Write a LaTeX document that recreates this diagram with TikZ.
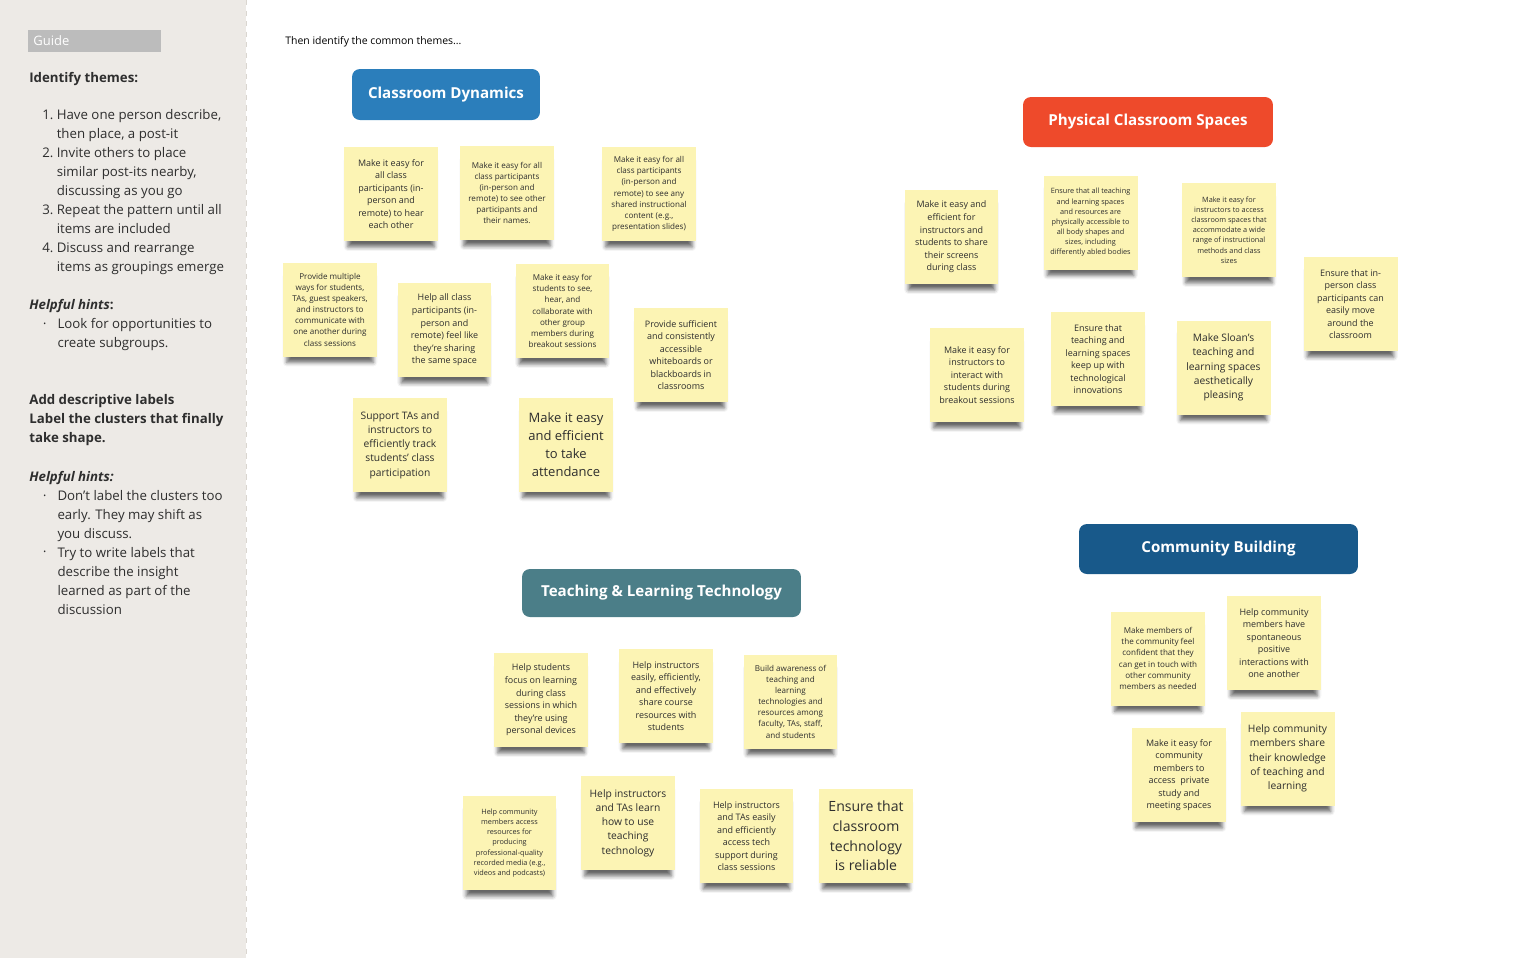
\documentclass[tikz,border=0pt]{standalone}
\usepackage{fontspec}
\setmainfont{Open Sans}
\usetikzlibrary{shadows.blur}
\definecolor{Ink}{HTML}{2E2E2E}
\definecolor{Paper}{HTML}{EDEAE6}
\definecolor{PaperEdge}{HTML}{DAD6D0}
\definecolor{Tab}{HTML}{BCBCBC}
\definecolor{Sticky}{HTML}{FCF4B4}
\definecolor{DynBlue}{HTML}{2B7EBB}
\definecolor{SpaceRed}{HTML}{EE4A2B}
\definecolor{CommNavy}{HTML}{18598A}
\definecolor{TechTeal}{HTML}{4B7E88}
\newcommand{\hintdot}{\raisebox{0.35ex}{\scalebox{0.55}{\textbullet}}}

\begin{document}
\begin{tikzpicture}[x=0.02cm, y=-0.02cm,
  note/.style={fill=Sticky, text=Ink, align=center, inner sep=0pt, minimum width=1.88cm, minimum height=1.88cm,
    blur shadow={shadow xshift=0pt, shadow yshift=-6pt, shadow scale=0.92, shadow opacity=60, shadow blur radius=2.5pt}},
  xs/.style={font=\fontsize{4.15}{5.78}\selectfont},
  sm/.style={font=\fontsize{4.6}{6.35}\selectfont},
  md/.style={font=\fontsize{5.1}{7.14}\selectfont},
  lg/.style={font=\fontsize{5.85}{8.1}\selectfont},
  xl/.style={font=\fontsize{7.4}{10.37}\selectfont},
  xxl/.style={font=\fontsize{8.0}{11.17}\selectfont},
  theme/.style={rounded corners=4.5pt, text=white, inner sep=0pt, font=\bfseries\fontsize{8.6}{10}\selectfont},
  side/.style={inner sep=0pt, text=Ink, anchor=base west, font=\fontsize{7.55}{10.8}\selectfont}
]
\useasboundingbox (0,0) rectangle (1536,958);

% guide panel
\fill[Paper] (0,0) rectangle (246,958);
\draw[PaperEdge, dashed] (246,0) -- (246,958);
\node[fill=Tab, text=white, anchor=west, minimum width=2.66cm, minimum height=0.44cm, inner xsep=0.1cm, text width=2.46cm, align=left,
  font=\fontsize{7.4}{9}\selectfont] (guide) at (28,41) {Guide};

\node[side, font=\bfseries\fontsize{7.55}{10.8}\selectfont] (themes) at (29,82) {Identify themes:};
\node[side] (steps) at (42,119.5) {\begin{tabular}[t]{@{}r@{\hspace{1.9pt}}l@{}}
  1. & Have one person describe,\\
     & then place, a post-it\\
  2. & Invite others to place\\
     & similar post-its nearby,\\
     & discussing as you go\\
  3. & Repeat the pattern until all\\
     & items are included\\
  4. & Discuss and rearrange\\
     & items as groupings emerge
\end{tabular}};
\node[side] (hintsA) at (29,309.5) {\textbf{\textit{Helpful hints}}\textbf{:}};
\node[side] (hintlistA) at (43,328.5) {\begin{tabular}[t]{@{}c@{\hspace{6.5pt}}l@{}}
  \hintdot & Look for opportunities to\\
           & create subgroups.
\end{tabular}};

\node[side] (labels) at (29,404.5) {\begin{tabular}[t]{@{}l@{}}
  \textbf{Add descriptive labels}\\
  \textbf{Label the clusters that finally}\\
  \textbf{take shape.}
\end{tabular}};
\node[side] (hintsB) at (29,481.5) {\textbf{\textit{Helpful hints:}}};
\node[side] (hintlistB) at (43,500.5) {\begin{tabular}[t]{@{}c@{\hspace{6.5pt}}l@{}}
  \hintdot & Don't label the clusters too\\
           & early. They may shift as\\
           & you discuss.\\
  \hintdot & Try to write labels that\\
           & describe the insight\\
           & learned as part of the\\
           & discussion
\end{tabular}};

\node[anchor=west, inner sep=0pt, text=black, font=\fontsize{5.95}{7}\selectfont] (intro) at (285,42) {Then identify the common themes...};

% classroom dynamics
\node[theme, fill=DynBlue, minimum width=3.76cm, minimum height=1.02cm] (dynamics) at (446,94.5) {Classroom Dynamics};
\node[note, md] (hear) at (391,194) {Make it easy for\\all class\\participants (in-\\person and\\remote) to hear\\each other};
\node[note, sm] (seeothers) at (507,193) {Make it easy for all\\class participants\\(in-person and\\remote) to see other\\participants and\\their names.};
\node[note, sm] (seecontent) at (649,194) {Make it easy for all\\class participants\\(in-person and\\remote) to see any\\shared instructional\\content (e.g.,\\presentation slides)};
\node[note, sm] (multiple) at (330,309.5) {Provide multiple\\ways for students,\\TAs, guest speakers,\\and instructors to\\communicate with\\one another during\\class sessions};
\node[note, md] (samespace) at (444.5,330) {Help all class\\participants (in-\\person and\\remote) feel like\\they're sharing\\the same space};
\node[note, sm] (breakout) at (562.5,311) {Make it easy for\\students to see,\\hear, and\\collaborate with\\other group\\members during\\breakout sessions};
\node[note, md] (boards) at (681,355) {Provide sufficient\\and consistently\\accessible\\whiteboards or\\blackboards in\\classrooms};
\node[note, lg] (track) at (400,445) {Support TAs and\\instructors to\\efficiently track\\students' class\\participation};
\node[note, xl] (attendance) at (566,444.5) {Make it easy\\and efficient\\to take\\attendance};

% physical classroom spaces
\node[theme, fill=SpaceRed, minimum width=5cm, minimum height=1cm] (spaces) at (1148,122) {Physical Classroom Spaces};
\node[note, md] (screens) at (951.5,237) {Make it easy and\\efficient for\\instructors and\\students to share\\their screens\\during class};
\node[note, xs] (accessible) at (1090.5,222.5) {Ensure that all teaching\\and learning spaces\\and resources are\\physically accessible to\\all body shapes and\\sizes, including\\differently abled bodies};
\node[note, xs] (methods) at (1229,230) {Make it easy for\\instructors to access\\classroom spaces that\\accommodate a wide\\range of instructional\\methods and class\\sizes};
\node[note, md] (move) at (1350.5,304) {Ensure that in-\\person class\\participants can\\easily move\\around the\\classroom};
\node[note, md] (interact) at (977,375) {Make it easy for\\instructors to\\interact with\\students during\\breakout sessions};
\node[note, md] (keepup) at (1098,359) {Ensure that\\teaching and\\learning spaces\\keep up with\\technological\\innovations};
\node[note, lg] (pleasing) at (1223.5,367.5) {Make Sloan's\\teaching and\\learning spaces\\aesthetically\\pleasing};

% community building
\node[theme, fill=CommNavy, minimum width=5.58cm, minimum height=1cm] (community) at (1218.5,549) {Community Building};
\node[note, sm] (touch) at (1158,658.5) {Make members of\\the community feel\\confident that they\\can get in touch with\\other community\\members as needed};
\node[note, md] (spontaneous) at (1274,643) {Help community\\members have\\spontaneous\\positive\\interactions with\\one another};
\node[note, md] (private) at (1179,775) {Make it easy for\\community\\members to\\access~ private\\study and\\meeting spaces};
\node[note, lg] (knowledge) at (1287.5,758.5) {Help community\\members share\\their knowledge\\of teaching and\\learning};

% teaching and learning technology
\node[theme, fill=TechTeal, minimum width=5.58cm, minimum height=0.96cm] (technology) at (661.5,593) {Teaching \& Learning Technology};
\node[note, md] (devices) at (541,700) {Help students\\focus on learning\\during class\\sessions in which\\they're using\\personal devices};
\node[note, md] (courses) at (666,696) {Help instructors\\easily, efficiently,\\and effectively\\share course\\resources with\\students};
\node[note, sm] (awareness) at (790.5,701.5) {Build awareness of\\teaching and\\learning\\technologies and\\resources among\\faculty, TAs, staff,\\and students};
\node[note, xs] (media) at (509.5,843) {Help community\\members access\\resources for\\producing\\professional-quality\\recorded media (e.g.,\\videos and podcasts)};
\node[note, lg] (learnuse) at (628,823) {Help instructors\\and TAs learn\\how to use\\teaching\\technology};
\node[note, md] (support) at (746.5,836) {Help instructors\\and TAs easily\\and efficiently\\access tech\\support during\\class sessions};
\node[note, xxl] (reliable) at (866,836) {Ensure that\\classroom\\technology\\is reliable};
\end{tikzpicture}
\end{document}
